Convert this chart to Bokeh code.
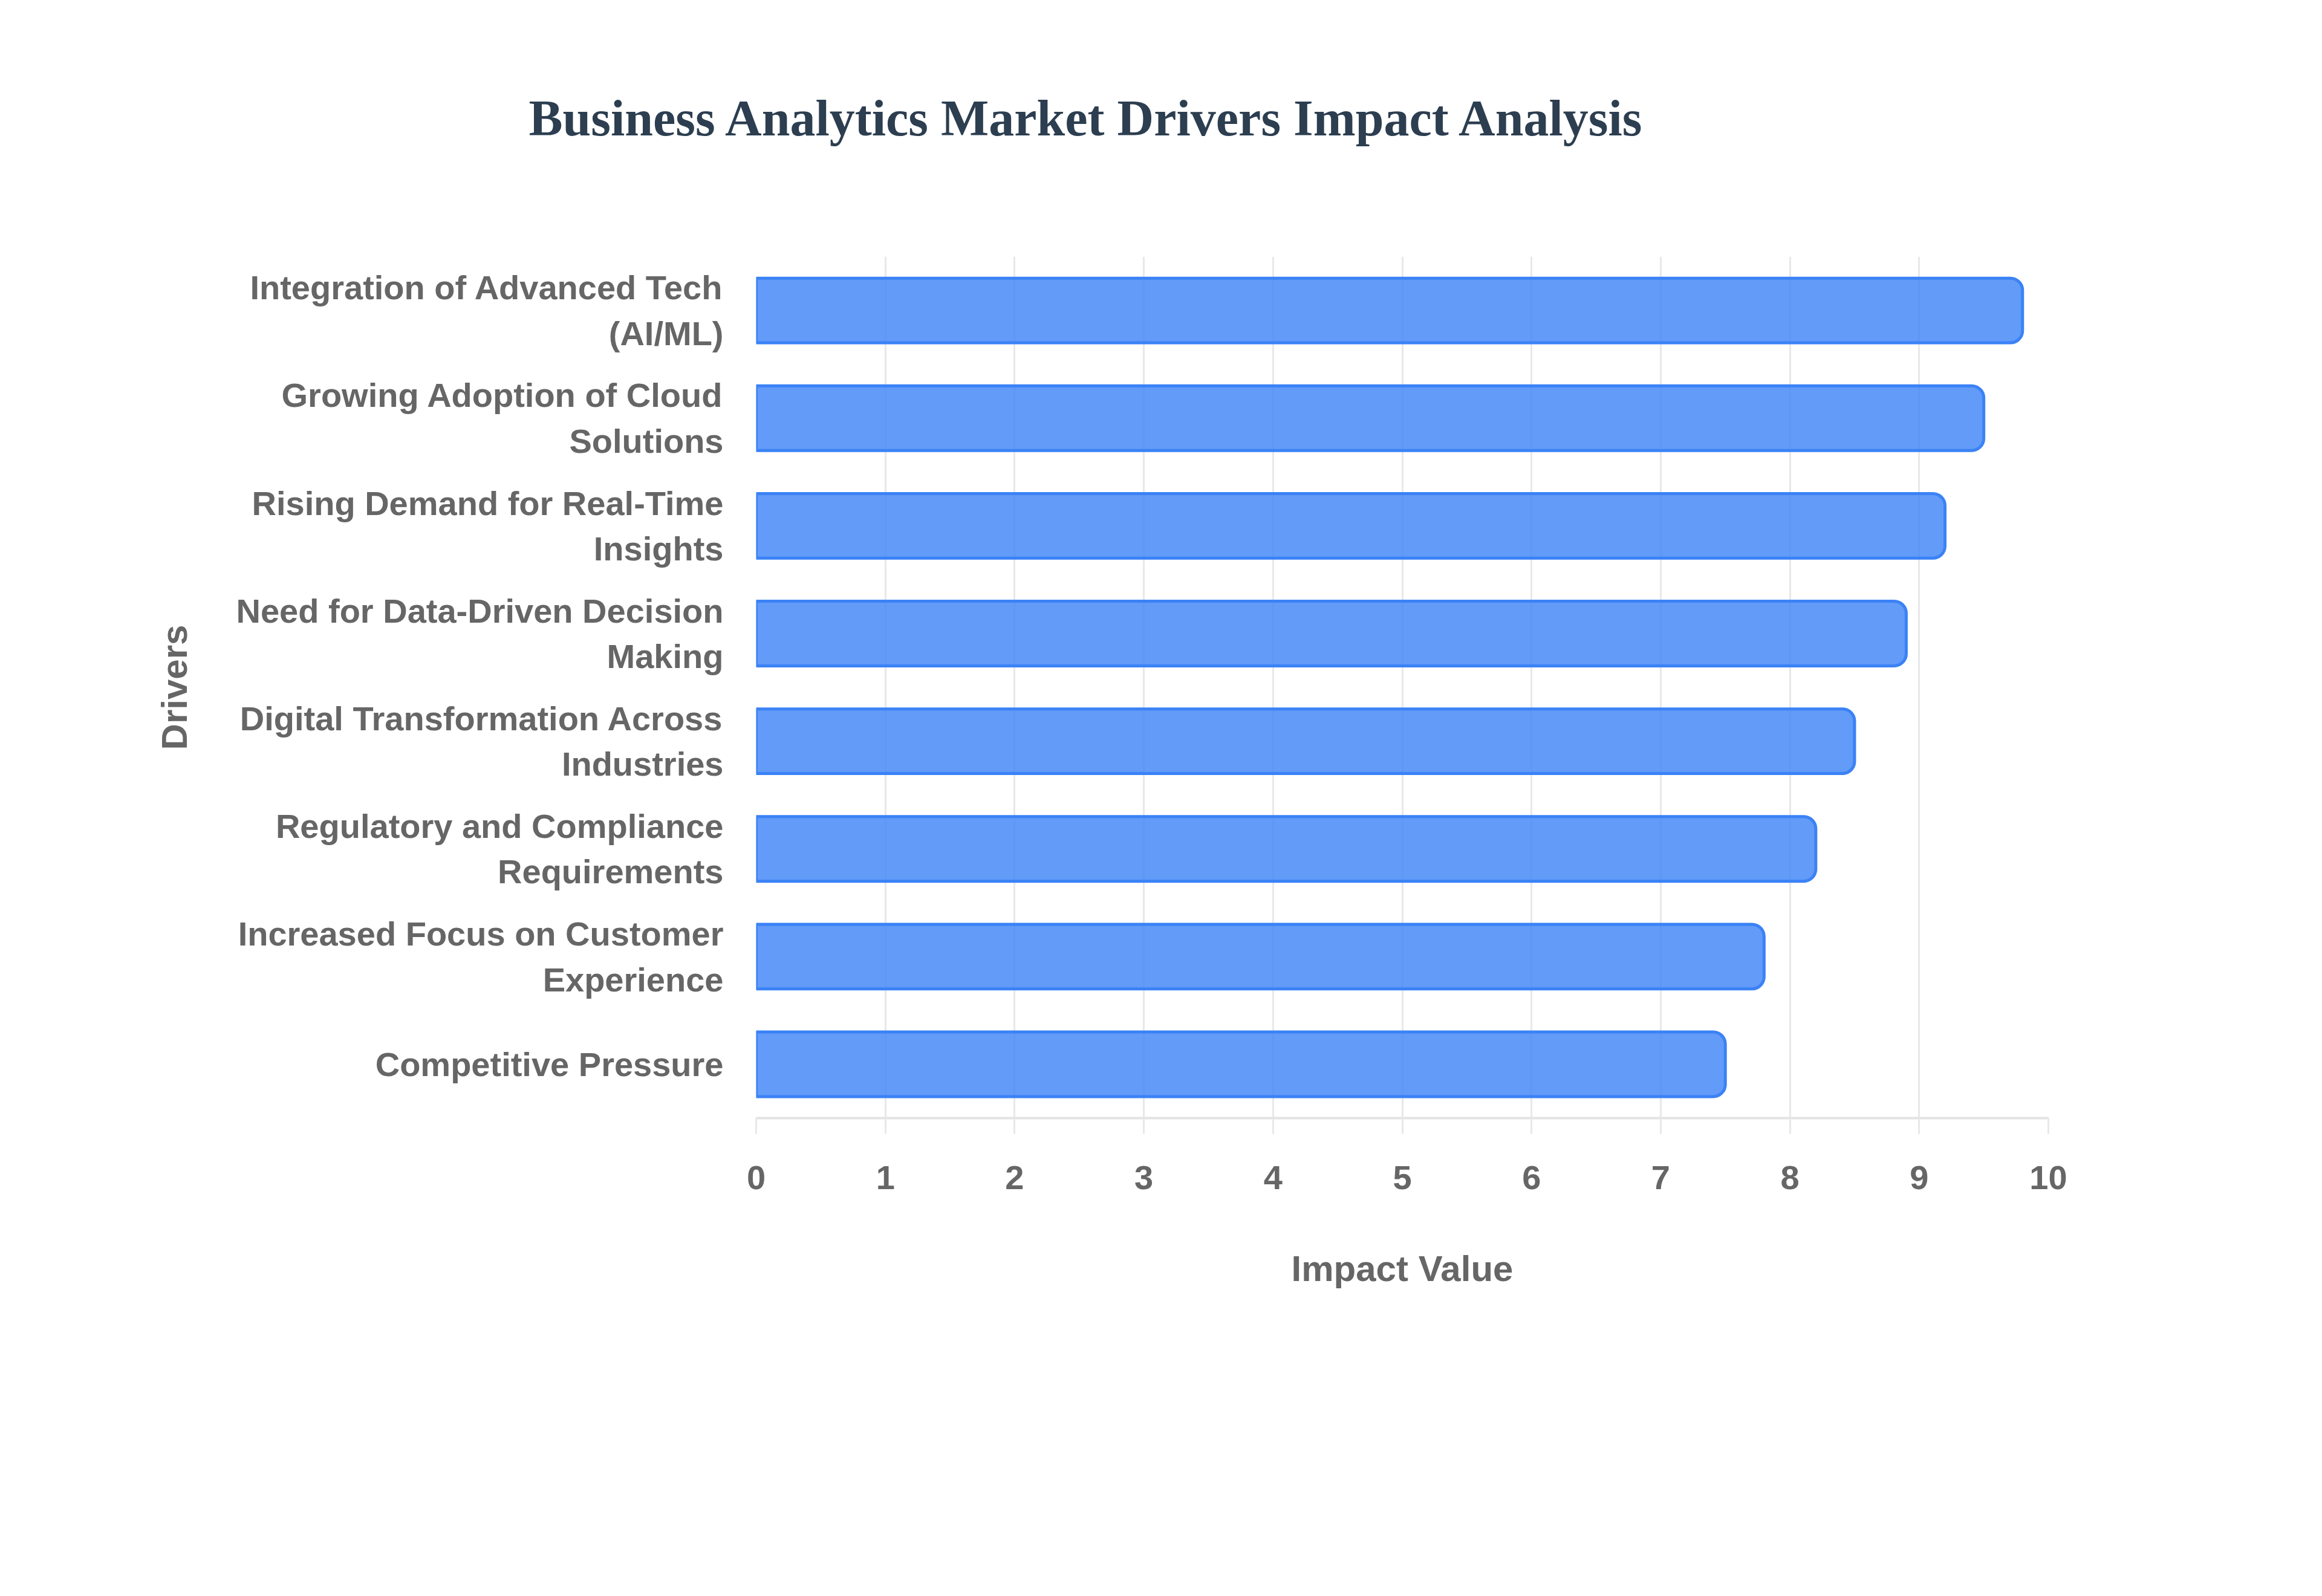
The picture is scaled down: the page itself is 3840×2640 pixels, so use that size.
from bokeh.plotting import figure
from bokeh.models import Range1d, FactorRange, SingleIntervalTicker, ColumnDataSource, Title
from bokeh.embed import file_html
from bokeh.resources import INLINE

drivers = [
    "Integration of Advanced Tech\n(AI/ML)",
    "Growing Adoption of Cloud\nSolutions",
    "Rising Demand for Real-Time\nInsights",
    "Need for Data-Driven Decision\nMaking",
    "Digital Transformation Across\nIndustries",
    "Regulatory and Compliance\nRequirements",
    "Increased Focus on Customer\nExperience",
    "Competitive Pressure",
]
impact = [9.8, 9.5, 9.2, 8.9, 8.5, 8.2, 7.8, 7.5]

title_text = "Business Analytics Market Drivers Impact Analysis"
x_title = "Impact Value"
y_title = "Drivers"

src = ColumnDataSource(dict(driver=drivers, impact=impact))

FRAME_W, FRAME_H = 2137, 1425
p = figure(
    frame_width=FRAME_W, frame_height=FRAME_H,
    y_range=FactorRange(*list(reversed(drivers)), range_padding=0),
    x_range=Range1d(0, 10),
    output_backend="svg", toolbar_location=None, title=None,
    min_border_left=1250, min_border_top=424,
    min_border_right=437, min_border_bottom=775,
)
p.background_fill_color = "white"
p.border_fill_color = "white"
p.outline_line_color = None

p.hbar(y="driver", right="impact", left=0, height=0.6, source=src,
       fill_color="#3b82f6", fill_alpha=0.8,
       line_color="#3b82f6", line_width=5,
       border_radius=(0, 20, 20, 0))

# spacer between frame and title, then the title itself
p.add_layout(Title(text=" ", text_font_size="10px", standoff=165), "above")
p.add_layout(Title(text=title_text, text_font="Liberation Serif",
                   text_font_style="bold", text_font_size="84px",
                   text_color="#2c3e50", align="left", offset=-376,
                   standoff=10), "above")

# x axis
xa = p.xaxis[0]
xa.ticker = SingleIntervalTicker(interval=1)
xa.axis_label = x_title
xa.axis_label_text_font = "Liberation Sans"
xa.axis_label_text_font_style = "bold"
xa.axis_label_text_font_size = "60px"
xa.axis_label_text_color = "#666666"
xa.axis_label_standoff = 95
xa.major_label_text_font = "Liberation Sans"
xa.major_label_text_font_style = "bold"
xa.major_label_text_font_size = "56px"
xa.major_label_text_color = "#666666"
xa.major_label_standoff = 53
xa.axis_line_color = "#e3e3e3"
xa.axis_line_width = 4
xa.major_tick_line_color = "#e8e8e8"
xa.major_tick_line_width = 3
xa.major_tick_out = 26
xa.major_tick_in = 0
xa.minor_tick_line_color = None

# y axis
ya = p.yaxis[0]
ya.axis_label = y_title
ya.axis_label_text_font = "Liberation Sans"
ya.axis_label_text_font_style = "bold"
ya.axis_label_text_font_size = "60px"
ya.axis_label_text_color = "#666666"
ya.axis_label_standoff = 66
ya.major_label_text_font = "Liberation Sans"
ya.major_label_text_font_style = "bold"
ya.major_label_text_font_size = "56px"
ya.major_label_text_color = "#666666"
ya.major_label_standoff = 48
ya.axis_line_color = None
ya.major_tick_line_color = None
ya.minor_tick_line_color = None

p.xgrid.grid_line_color = "#e8e8e8"
p.xgrid.grid_line_width = 3
p.ygrid.grid_line_color = None

open("out.html", "w").write(file_html(p, INLINE))
